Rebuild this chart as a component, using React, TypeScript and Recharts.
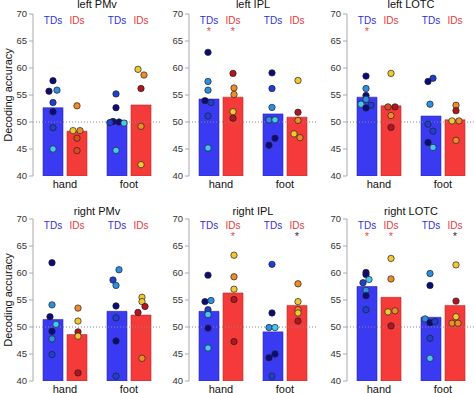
import React from 'react';
import { ComposedChart, Bar, Scatter, XAxis, YAxis, ReferenceLine, Label } from 'recharts';

const panelTitles = ['left PMv', 'left IPL', 'left LOTC', 'right PMv', 'right IPL', 'right LOTC'];
const conditions = ['hand', 'foot'];
const groupNames = ['TDs', 'IDs'];
const yTicks = [40, 45, 50, 55, 60, 65, 70];

// bar means per panel
const meanTDsHand = [52.65, 54.25, 54.6, 51.4, 52.9, 57.5];
const meanIDsHand = [48.3, 54.6, 53.0, 48.6, 56.3, 55.5];
const meanTDsFoot = [50.25, 51.5, 51.1, 52.9, 49.1, 51.8];
const meanIDsFoot = [53.15, 50.9, 50.4, 52.2, 54.0, 54.0];

// individual scores: [TDs hand, IDs hand, TDs foot, IDs foot]
const leftPMvScores = [
  [57.65, 55.7, 55.9, 53.6, 51.9, 48.95, 45.0],
  [53.0, 48.4, 48.4, 47.0, 44.7],
  [55.2, 52.65, 50.1, 50.0, 49.9, 49.8, 44.75],
  [59.75, 58.7, 56.2, 49.2, 42.1],
];
const leftIPLScores = [
  [62.9, 57.5, 55.9, 53.95, 53.6, 51.1, 45.2],
  [59.0, 56.3, 55.1, 51.9, 50.7],
  [59.1, 56.2, 52.7, 50.4, 50.4, 47.0, 45.7],
  [57.7, 51.8, 50.3, 47.8, 47.1],
];
const leftLOTCScores = [
  [58.5, 56.2, 54.9, 54.2, 53.3, 53.1, 52.6],
  [59.0, 52.8, 52.8, 51.2, 49.0],
  [58.1, 57.5, 53.3, 49.6, 48.3, 46.2, 45.3],
  [53.1, 52.1, 50.2, 50.2, 46.6],
];
const rightPMvScores = [
  [61.9, 54.1, 51.9, 50.5, 49.2, 47.8, 44.9],
  [53.5, 51.1, 49.1, 48.3, 41.5],
  [60.6, 58.7, 57.7, 53.9, 51.7, 47.4, 40.9],
  [55.5, 54.7, 53.8, 52.7, 44.2],
];
const rightIPLScores = [
  [59.6, 54.7, 54.9, 53.2, 52.3, 49.8, 46.1],
  [63.3, 59.3, 57.0, 55.1, 47.3],
  [61.6, 52.6, 49.9, 49.9, 45.0, 44.3, 40.9],
  [58.0, 54.7, 53.2, 52.6, 51.1],
];
const rightLOTCScores = [
  [60.1, 59.7, 58.8, 58.2, 56.8, 55.8, 53.2],
  [62.7, 58.9, 52.8, 53.0, 50.2],
  [59.9, 57.7, 51.5, 50.8, 51.0, 47.9, 44.2],
  [61.5, 54.8, 51.9, 50.7, 50.7],
];

// subject shade index per score
const leftPMvShade = [[0, 0, 2, 1, 0, 1, 3], [2, 3, 2, 1, 1], [1, 0, 0, 0, 1, 3, 3], [3, 2, 0, 2, 3]];
const leftIPLShade = [[0, 2, 2, 0, 1, 1, 3], [0, 2, 2, 3, 0], [0, 1, 2, 2, 3, 0, 0], [3, 0, 2, 3, 2]];
const leftLOTCShade = [[0, 2, 0, 2, 3, 1, 0], [3, 1, 0, 2, 0], [1, 0, 2, 1, 1, 0, 3], [2, 0, 3, 2, 2]];
const rightPMvShade = [[0, 2, 0, 3, 0, 2, 1], [2, 3, 0, 3, 0], [2, 1, 2, 0, 1, 0, 1], [3, 3, 0, 0, 2]];
const rightIPLShade = [[0, 0, 2, 1, 3, 0, 3], [3, 2, 3, 0, 0], [1, 0, 2, 3, 0, 0, 1], [2, 3, 2, 3, 0]];
const rightLOTCShade = [[0, 0, 3, 1, 2, 0, 1], [3, 2, 3, 2, 0], [2, 0, 2, 0, 1, 1, 3], [3, 0, 3, 2, 2]];

// horizontal jitter (px)
const leftPMvJitter = [[0, -4, 4, 0, 0, 0, 0], [0, -4, 3, 0, 0], [-1, -1, -4, 2, -7, 7, -1], [-3, 3, 0, 0, 0]];
const leftIPLJitter = [[-1, -1, -1, -4, 2, -1, -1], [0, 1, 1, 0, 0], [-1, -1, -1, -4, 2, 2, -4], [1, 1, 1, -3, 3]];
const leftLOTCJitter = [[-1, -1, -1, -1, -6, 4, -1], [0, -3, 4, 0, 0], [2, -3, -1, -3, 2, -3, 2], [1, 1, -3, 4, 1]];
const rightPMvJitter = [[-1, -1, -3, 3, -1, -1, -1], [1, 1, 1, 1, 1], [2, -4, -1, -1, -1, -1, -1], [1, 1, 4, -3, 1]];
const rightIPLJitter = [[-1, -4, 2, -1, -1, -1, -1], [1, 1, 1, 1, 1], [-1, -1, -4, 2, 2, -4, -1], [1, 1, 1, 1, 1]];
const rightLOTCJitter = [[-1, -1, 2, -4, -1, -1, -1], [0, 0, -3, 4, 0], [-1, -1, -6, -1, 4, -1, -1], [1, 1, 1, -3, 3]];

// significance markers per group
const stars = [
  [null, null, null, null],
  ['red', 'red', null, null],
  ['red', null, null, null],
  [null, null, null, null],
  [null, 'red', null, 'black'],
  ['red', 'red', null, 'black'],
];

const allScores = [leftPMvScores, leftIPLScores, leftLOTCScores, rightPMvScores, rightIPLScores, rightLOTCScores];
const allShades = [leftPMvShade, leftIPLShade, leftLOTCShade, rightPMvShade, rightIPLShade, rightLOTCShade];
const allJitter = [leftPMvJitter, leftIPLJitter, leftLOTCJitter, rightPMvJitter, rightIPLJitter, rightLOTCJitter];

const TD_SHADES = ['#0b0b7a', '#1f3fd0', '#2d8fe0', '#45c8f0'];
const ID_SHADES = ['#b4141e', '#e04a20', '#f08c28', '#f0c832'];
const BAR_BLUE = '#3a3af2';
const BAR_RED = '#f53a3a';
const LABEL_BLUE = '#3030d8';
const LABEL_RED = '#e83a3a';
const STAR_RED = '#e05050';
const STAR_BLACK = '#333';
const FONT = '"Liberation Sans", Arial, Helvetica, sans-serif';

const GROUP_CENTERS = [0.3125, 0.6875, 1.3125, 1.6875];
const BAND_PX = 64;
const PLOT_W = 128;
const PLOT_H = 162;
const COL_LEFT = [33, 189, 347];
const ROW_TOP = [14, 219];
const TITLE_SHIFT = [-2, 0];

const PointShape = (p: any) => (
  <circle cx={p.cx} cy={p.cy} r={3.2} fill={p.payload.fill} stroke="#222" strokeWidth={0.7} />
);
const TextShape = (p: any) => (
  <text
    x={p.cx}
    y={p.cy}
    textAnchor="middle"
    dominantBaseline="central"
    fill={p.payload.color}
    fontSize={p.payload.size}
    fontFamily={FONT}
  >
    {p.payload.text}
  </text>
);

function Panel({ idx }: { idx: number }) {
  const col = idx % 3;
  const row = Math.floor(idx / 3);
  const yw = col === 0 ? 33 : 24;
  const left = COL_LEFT[col] - yw;
  const top = ROW_TOP[row] - 14;

  const barData = [
    { cond: conditions[0], TDs: meanTDsHand[idx], IDs: meanIDsHand[idx] },
    { cond: conditions[1], TDs: meanTDsFoot[idx], IDs: meanIDsFoot[idx] },
  ];

  const points: any[] = [];
  allScores[idx].forEach((grp, g) => {
    const shades = g % 2 === 0 ? TD_SHADES : ID_SHADES;
    grp.forEach((v, k) => {
      points.push({
        x: GROUP_CENTERS[g] + allJitter[idx][g][k] / BAND_PX,
        y: v,
        fill: shades[allShades[idx][g][k]],
      });
    });
  });

  const labels = GROUP_CENTERS.map((c, g) => ({
    x: c,
    y: 68.8,
    text: groupNames[g % 2],
    color: g % 2 === 0 ? LABEL_BLUE : LABEL_RED,
    size: 10,
  }));
  const starPts = GROUP_CENTERS.map((c, g) => ({ c, s: stars[idx][g] }))
    .filter((d) => d.s)
    .map((d) => ({ x: d.c, y: 66.8, text: '*', color: d.s === 'red' ? STAR_RED : STAR_BLACK, size: 11 }));

  return (
    <div style={{ position: 'absolute', left, top }}>
      <div
        style={{
          position: 'absolute',
          left: yw,
          width: PLOT_W,
          top: TITLE_SHIFT[row],
          textAlign: 'center',
          fontFamily: FONT,
          fontSize: 11,
          lineHeight: '12px',
          color: '#111',
        }}
      >
        {panelTitles[idx]}
      </div>
      <ComposedChart
        width={yw + PLOT_W}
        height={14 + PLOT_H + 20}
        data={barData}
        margin={{ top: 14, right: 0, bottom: 0, left: 0 }}
        barGap={4}
      >
        <XAxis
          xAxisId="cat"
          dataKey="cond"
          type="category"
          axisLine={false}
          tickLine={false}
          tickSize={0}
          tickMargin={4}
          height={20}
          tick={{ fontSize: 11, fill: '#111', fontFamily: FONT }}
        />
        <XAxis xAxisId="num" dataKey="x" type="number" domain={[0, 2]} hide allowDataOverflow />
        <YAxis
          type="number"
          domain={[40, 70]}
          ticks={yTicks}
          width={yw}
          interval={0}
          tickSize={4}
          axisLine={{ stroke: '#aaa' }}
          tickLine={{ stroke: '#aaa' }}
          tick={{ fontSize: 9.5, fill: '#333', fontFamily: FONT }}
          allowDataOverflow
        >
          {col === 0 ? (
            <Label
              content={(lp: any) => {
                const vb = lp.viewBox;
                const cx = vb.x + 8;
                const cy = vb.y + vb.height / 2;
                return (
                  <text
                    x={cx}
                    y={cy}
                    transform={`rotate(-90, ${cx}, ${cy})`}
                    textAnchor="middle"
                    dominantBaseline="central"
                    fontSize={11}
                    fontFamily={FONT}
                    fill="#111"
                  >
                    Decoding accuracy
                  </text>
                );
              }}
            />
          ) : null}
        </YAxis>
        <Bar xAxisId="cat" dataKey="TDs" barSize={20} fill={BAR_BLUE} stroke="#2a2ab0" strokeWidth={0.6} isAnimationActive={false} />
        <Bar xAxisId="cat" dataKey="IDs" barSize={20} fill={BAR_RED} stroke="#b82a2a" strokeWidth={0.6} isAnimationActive={false} />
        <ReferenceLine xAxisId="num" y={50} stroke="#888" strokeDasharray="1 2" strokeWidth={1} />
        <Scatter xAxisId="num" data={points} dataKey="y" shape={PointShape} isAnimationActive={false} />
        <Scatter xAxisId="num" data={labels} dataKey="y" shape={TextShape} isAnimationActive={false} />
        <Scatter xAxisId="num" data={starPts} dataKey="y" shape={TextShape} isAnimationActive={false} />
      </ComposedChart>
    </div>
  );
}

export default function App() {
  return (
    <div
      style={{
        position: 'absolute',
        left: 0,
        top: 0,
        width: 474,
        height: 393,
        overflow: 'hidden',
        background: '#fff',
      }}
    >
      {panelTitles.map((_, i) => (
        <Panel key={i} idx={i} />
      ))}
    </div>
  );
}
